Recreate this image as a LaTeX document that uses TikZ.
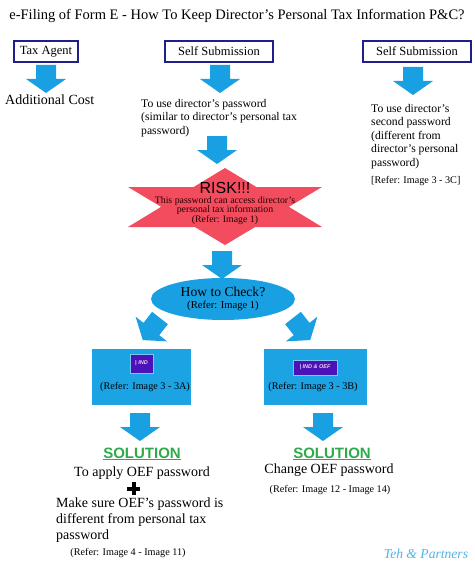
\documentclass[tikz,border=0pt]{standalone}
\usepackage{fontspec}
\setmainfont{Liberation Serif}
\newfontfamily\arialf{Liberation Sans}
\definecolor{arrowblue}{RGB}{24,160,226}
\definecolor{boxblue}{RGB}{27,163,228}
\definecolor{navy}{RGB}{30,30,140}
\definecolor{starred}{RGB}{242,76,94}
\definecolor{purp}{RGB}{74,18,184}
\definecolor{solgreen}{RGB}{46,170,74}
\definecolor{tehblue}{RGB}{80,180,232}
\definecolor{pinktext}{RGB}{242,208,232}
\begin{document}
\begin{tikzpicture}[x=1pt,y=-1pt,
  hdrbox/.style={draw=navy,line width=2.2pt,fill=white,minimum height=21pt,inner sep=0pt,font=\fontsize{12.5}{13}\selectfont},
  txt/.style={inner sep=0pt,font=\fontsize{11.7}{13.5}\selectfont,align=left},
  reftxt/.style={inner sep=0pt,font=\fontsize{10.2}{11}\selectfont},
  bigtxt/.style={inner sep=0pt,font=\fontsize{14}{16}\selectfont},
  checkbox/.style={fill=boxblue,minimum width=99pt,minimum height=56pt,inner sep=0pt},
  tag/.style={fill=purp,draw=boxblue!60!white,line width=0.4pt,inner sep=0pt,text=pinktext,font=\arialf\bfseries\itshape\fontsize{5.5}{6}\selectfont},
  sol/.style={inner sep=0pt,text=solgreen,font=\arialf\bfseries\fontsize{15}{16}\selectfont},
  barrow/.pic={\fill[arrowblue] (-10,0) -- (10,0) -- (10,14) -- (20,14) -- (0,28) -- (-20,14) -- (-10,14) -- cycle;}
]
\useasboundingbox (0,0) rectangle (474,567);
\fill[white] (0,0) rectangle (474,567);

% title
\node[inner sep=0pt,anchor=base,font=\fontsize{14.5}{16}\selectfont] (title) at (237,20) {e-Filing of Form E - How To Keep Director's Personal Tax Information P\&C?};

% header boxes
\node[hdrbox,minimum width=64pt] (ta) at (46,51.5) {Tax Agent};
\node[hdrbox,minimum width=108pt] (ss1) at (219,51.5) {Self Submission};
\node[hdrbox,minimum width=108pt] (ss2) at (417,51.5) {Self Submission};

% first row arrows
\pic at (46,65) {barrow};
\pic at (220,65) {barrow};
\pic at (413,67) {barrow};

\node[bigtxt,anchor=base west] (cost) at (5,105) {Additional Cost};
% base anchor of multi-line nodes = baseline of last line
\node[txt,anchor=base west] (use1) at (141,134) {To use director's password\\(similar to director's personal tax\\password)};
\node[txt,anchor=base west] (use2) at (371,166) {To use director's\\second password\\(different from\\director's personal\\password)};
\node[reftxt,anchor=base west] (ref3c) at (371,183) {[Refer: Image 3 - 3C]};

\pic at (217,136) {barrow};

% star
\fill[starred] (225,168) -- (322,227) -- (128,227) -- cycle;
\fill[starred] (225,245) -- (322,187) -- (128,187) -- cycle;
\coordinate (star) at (225,206);
\node[inner sep=0pt,anchor=base,font=\arialf\fontsize{16}{18}\selectfont] (risk) at (225,193.5) {RISK!!!};
\node[inner sep=0pt,anchor=base,align=center,font=\fontsize{9.8}{9.7}\selectfont,text=black!85!red] (risktxt) at (225,222.5) {This password can access director's\\personal tax information\\(Refer: Image 1)};

\pic at (222,251) {barrow};

% ellipse
\fill[arrowblue] (223,299) ellipse [x radius=72, y radius=21];
\node[inner sep=0pt,anchor=base,font=\fontsize{13.6}{15}\selectfont] (how) at (223,296) {How to Check?};
\node[reftxt,anchor=base,font=\fontsize{10.6}{11}\selectfont] (howref) at (223,308) {(Refer: Image 1)};

% diagonal arrows
\pic[rotate=-38] at (160,318) {barrow};
\pic[rotate=38] at (293,318) {barrow};

% check boxes
\node[checkbox] (boxA) at (141.5,377) {};
\node[checkbox,minimum width=103pt] (boxB) at (315.5,377) {};
\node[tag,minimum width=23pt,minimum height=19pt] (ind) at (141.5,363.5) {| IND};
\node[tag,minimum width=44pt,minimum height=15pt] (indoef) at (315,367.5) {| IND \& OEF};
\node[reftxt,anchor=base] (refA) at (145,389) {(Refer: Image 3 - 3A)};
\node[reftxt,anchor=base] (refB) at (313,389) {(Refer: Image 3 - 3B)};

\pic at (140,413) {barrow};
\pic at (323,413) {barrow};

% solutions
\node[sol,anchor=base] (solA) at (142,458) {\underline{SOLUTION}};
\node[sol,anchor=base] (solB) at (332,458) {\underline{SOLUTION}};
\node[bigtxt,anchor=base] (apply) at (142,476) {To apply OEF password};
\draw[line width=4pt] (127,488.5) -- (140,488.5) (133.5,482) -- (133.5,495);
\node[bigtxt,anchor=base west,align=left] (make) at (56,539) {Make sure OEF's password is\\different from personal tax\\password};
\node[reftxt,anchor=base] (refA2) at (128,555) {(Refer: Image 4 - Image 11)};
\node[bigtxt,anchor=base] (change) at (329,473) {Change OEF password};
\node[reftxt,anchor=base] (refB2) at (330,492) {(Refer: Image 12 - Image 14)};

\node[inner sep=0pt,anchor=base,text=tehblue,font=\itshape\fontsize{13.6}{14}\selectfont] (teh) at (426,558) {Teh \& Partners};
\end{tikzpicture}
\end{document}
